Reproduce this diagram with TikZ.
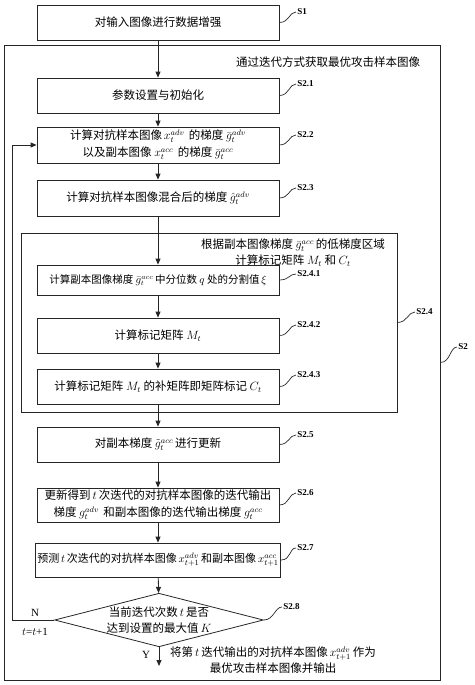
\documentclass[tikz,border=0pt]{standalone}
\usepackage{fontspec}
\setmainfont{Liberation Serif}
\newfontfamily\cjk{Noto Sans CJK SC}
\usetikzlibrary{shapes.geometric,arrows.meta,positioning}

\begin{document}
\begin{tikzpicture}[x=1pt, y=-1pt, line width=0.8pt, draw=black!85,
    stepbox/.style={rectangle, draw, minimum width=242pt, minimum height=35pt, align=center, inner sep=2pt, font=\cjk\fontsize{11.5}{17}\selectfont},
    decision/.style={diamond, draw, aspect=3.9, inner sep=0pt, align=center, font=\cjk\fontsize{11.5}{16}\selectfont},
    frame/.style={rectangle, draw, inner sep=0pt},
    note/.style={align=center, font=\cjk\fontsize{11.5}{16}\selectfont},
    steplab/.style={anchor=west, inner sep=1pt, font=\bfseries\fontsize{9}{10}\selectfont},
    tag/.style={line width=0.7pt},
    arr/.style={-{Triangle[length=6pt,width=5pt]}}]
    \useasboundingbox (0,0) rectangle (474,685);

    \node[frame, minimum width=436pt, minimum height=635pt] (s2) at (222,362.5) {};
    \node[frame, minimum width=376pt, minimum height=179pt] (s24) at (209,322.5) {};

    \node[stepbox] (s1) at (158,22.5) {对输入图像进行数据增强};
    \node[note] (t2) at (328,62) {通过迭代方式获取最优攻击样本图像};
    \node[stepbox] (s21) at (158,95.5) {参数设置与初始化};
    \node[stepbox, minimum height=36pt] (s22) at (158,145) {计算对抗样本图像\,$x_t^{adv}$\, 的梯度 $\bar{g}_t^{adv}$\\以及副本图像 $x_t^{acc}$\, 的梯度 $\bar{g}_t^{acc}$};
    \node[stepbox, minimum height=36pt] (s23) at (158,198) {计算对抗样本图像混合后的梯度 $\hat{g}_t^{adv}$};
    \node[note] (t24) at (293,253) {根据副本图像梯度 $\bar{g}_t^{acc}$\,的低梯度区域\\计算标记矩阵 $M_t$ 和 $C_t$};
    \node[stepbox, minimum height=30pt, font=\cjk\fontsize{10.5}{15}\selectfont] (s241) at (158,280) {计算副本图像梯度 $\bar{g}_t^{acc}$\,中分位数 $q$ 处的分割值\,$\xi$};
    \node[stepbox] (s242) at (158,335.5) {计算标记矩阵 $M_t$};
    \node[stepbox] (s243) at (158,386.5) {计算标记矩阵 $M_t$ 的补矩阵即矩阵标记 $C_t$};
    \node[stepbox] (s25) at (158,444.5) {对副本梯度 $\tilde{g}_t^{acc}$\,进行更新};
    \node[stepbox, minimum height=34pt] (s26) at (158,505) {更新得到\,$t$\,次迭代的对抗样本图像的迭代输出\\梯度 $g_t^{adv}$\, 和副本图像的迭代输出梯度 $g_t^{acc}$};
    \node[stepbox, minimum height=34pt, font=\cjk\fontsize{11}{16}\selectfont] (s27) at (158,560) {预测\,$t$\,次迭代的对抗样本图像\,$x_{t+1}^{adv}$\,和副本图像\,$x_{t+1}^{acc}$};
    \node[decision] (s28) at (159,620) {当前迭代次数\,$t$\,是否\\达到设置的最大值\,$K$};
    \node[note] (out) at (273,660) {将第\,$t$\,迭代输出的对抗样本图像\,$x_{t+1}^{adv}$\,作为\\最优攻击样本图像并输出};
    \node[font=\fontsize{11}{12}\selectfont] (no) at (35,613) {N};
    \node[font=\fontsize{11}{12}\selectfont] (inc) at (35,632) {$t$=$t$+1};
    \node[font=\fontsize{11}{12}\selectfont] (yes) at (146,655) {Y};

    \coordinate (fb) at (12,620);
    \coordinate (yend) at (159,666);

    \draw[arr] (s1) -- (s21);
    \draw[arr] (s21) -- (s22);
    \draw[arr] (s22) -- (s23);
    \draw[arr] (s23) -- (s241);
    \draw[arr] (s241) -- (s242);
    \draw[arr] (s242) -- (s243);
    \draw[arr] (s243) -- (s25);
    \draw[arr] (s25) -- (s26);
    \draw[arr] (s26) -- (s27);
    \draw[arr] (s27) -- (s28);
    \draw[arr] (s28.south) -- (yend);
    \draw[arr] (s28.west) -- (fb) |- (s22.west);

    \node[steplab] (l1) at (296,12) {S1};
    \node[steplab] (l21) at (296,84) {S2.1};
    \node[steplab] (l22) at (296,135) {S2.2};
    \node[steplab] (l23) at (296,188) {S2.3};
    \node[steplab] (l241) at (296,274) {S2.4.1};
    \node[steplab] (l242) at (296,325) {S2.4.2};
    \node[steplab] (l243) at (296,375) {S2.4.3};
    \node[steplab] (l24) at (415,312) {S2.4};
    \node[steplab] (l25) at (296,435) {S2.5};
    \node[steplab] (l26) at (296,493) {S2.6};
    \node[steplab] (l27) at (296,548) {S2.7};
    \node[steplab] (l28) at (282,607) {S2.8};
    \node[steplab] (l2) at (457,347) {S2};

    \draw[tag] (s1.east) .. controls +(10,0) and +(-7,0) .. (l1.west);
    \draw[tag] (s21.east) .. controls +(10,0) and +(-7,0) .. (l21.west);
    \draw[tag] (s22.east) .. controls +(10,0) and +(-7,0) .. (l22.west);
    \draw[tag] (s23.east) .. controls +(10,0) and +(-7,0) .. (l23.west);
    \draw[tag] (s241.east) .. controls +(10,0) and +(-7,0) .. (l241.west);
    \draw[tag] (s242.east) .. controls +(10,0) and +(-7,0) .. (l242.west);
    \draw[tag] (s243.east) .. controls +(10,0) and +(-7,0) .. (l243.west);
    \draw[tag] (s24.east) .. controls +(10,0) and +(-7,0) .. (l24.west);
    \draw[tag] (s25.east) .. controls +(10,0) and +(-7,0) .. (l25.west);
    \draw[tag] (s26.east) .. controls +(10,0) and +(-7,0) .. (l26.west);
    \draw[tag] (s27.east) .. controls +(10,0) and +(-7,0) .. (l27.west);
    \draw[tag] (s28.east) .. controls +(10,0) and +(-7,0) .. (l28.west);
    \draw[tag] (s2.east) .. controls +(10,0) and +(-7,0) .. (l2.west);
\end{tikzpicture}
\end{document}
